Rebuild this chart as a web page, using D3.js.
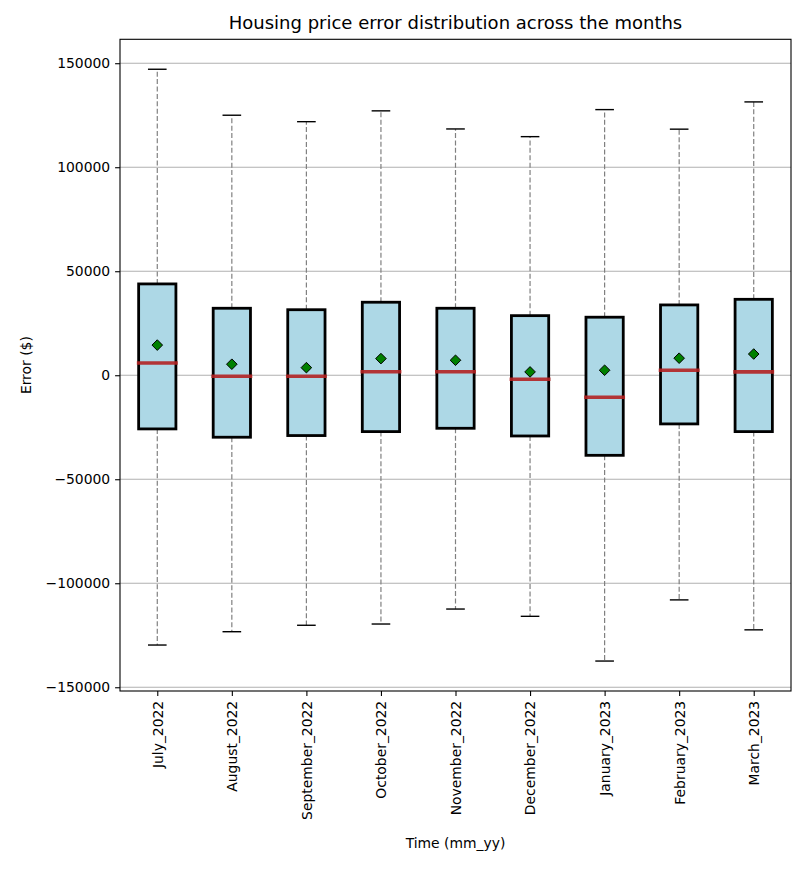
<!DOCTYPE html>
<html>
<head>
<meta charset="utf-8">
<script src="https://cdn.jsdelivr.net/npm/d3@7"></script>
<style>
  body { margin: 0; background: #fff; }
  svg { font-family: "DejaVu Sans", sans-serif; }
</style>
</head>
<body>
<svg></svg>
<script>
const months = ["July_2022", "August_2022", "September_2022", "October_2022", "November_2022",
  "December_2022", "January_2023", "February_2023", "March_2023"];

// five number summary + mean
const whiskerHigh = [147100, 125000, 121900, 127100, 118400, 114700, 127700, 118300, 131400];
const q3 = [43900, 32200, 31500, 35100, 32200, 28650, 27900, 33800, 36500];
const medians = [5900, -500, -500, 1700, 1700, -1900, -10600, 2400, 1600];
const means = [14500, 5300, 3650, 8000, 7200, 1600, 2400, 8200, 10200];
const q1 = [-25800, -29800, -29000, -27100, -25500, -29200, -38500, -23400, -27100];
const whiskerLow = [-129700, -123300, -120200, -119600, -112400, -115900, -137400, -108000, -122400];

const yTicks = [-150000, -100000, -50000, 0, 50000, 100000, 150000];
const yDomain = [-151800, 161500];

const width = 799;
const height = 870;
const plotLeft = 120;
const plotRight = 791;
const plotTop = 39.3;
const plotBottom = 691;
const font = "'DejaVu Sans', sans-serif";

let xScale;
let yScale;
let data;

const svg = d3.select("svg").attr("width", width).attr("height", height);

const buildData = () => {
  data = months.map((m, i) => ({
    month: m,
    lo: whiskerLow[i],
    q1: q1[i],
    med: medians[i],
    q3: q3[i],
    hi: whiskerHigh[i],
    mean: means[i]
  }));
}

const generateScales = () => {
  xScale = d3.scalePoint().domain(months).range([plotLeft, plotRight]).padding(0.5);
  yScale = d3.scaleLinear().domain(yDomain).range([plotBottom, plotTop]);
}

const generateGrid = () => {
  svg.append("g")
    .selectAll("line")
    .data(yTicks)
    .enter()
    .append("line")
    .attr("x1", plotLeft)
    .attr("x2", plotRight)
    .attr("y1", (d) => yScale(d))
    .attr("y2", (d) => yScale(d))
    .attr("stroke", "#b0b0b0")
    .attr("stroke-width", 1.1);
}

const generateBoxes = () => {
  const step = xScale.step();
  const boxW = step * 0.5;
  const capW = step * 0.25;

  const g = svg.append("g")
    .selectAll("g")
    .data(data)
    .enter()
    .append("g")
    .attr("transform", (d) => "translate(" + xScale(d.month) + ",0)");

  // whiskers
  g.append("line")
    .attr("y1", (d) => yScale(d.q3))
    .attr("y2", (d) => yScale(d.hi))
    .attr("stroke", "#808080")
    .attr("stroke-width", 1.2)
    .attr("stroke-dasharray", "5,2.4");
  g.append("line")
    .attr("y1", (d) => yScale(d.q1))
    .attr("y2", (d) => yScale(d.lo))
    .attr("stroke", "#808080")
    .attr("stroke-width", 1.2)
    .attr("stroke-dasharray", "5,2.4");

  // caps
  g.append("line")
    .attr("x1", -capW / 2).attr("x2", capW / 2)
    .attr("y1", (d) => yScale(d.hi)).attr("y2", (d) => yScale(d.hi))
    .attr("stroke", "#000").attr("stroke-width", 1.4);
  g.append("line")
    .attr("x1", -capW / 2).attr("x2", capW / 2)
    .attr("y1", (d) => yScale(d.lo)).attr("y2", (d) => yScale(d.lo))
    .attr("stroke", "#000").attr("stroke-width", 1.4);

  // box
  g.append("rect")
    .attr("x", -boxW / 2)
    .attr("width", boxW)
    .attr("y", (d) => yScale(d.q3))
    .attr("height", (d) => yScale(d.q1) - yScale(d.q3))
    .attr("fill", "#add8e6")
    .attr("stroke", "#000")
    .attr("stroke-width", 2.8);

  // median
  g.append("line")
    .attr("x1", -boxW / 2).attr("x2", boxW / 2)
    .attr("y1", (d) => yScale(d.med)).attr("y2", (d) => yScale(d.med))
    .attr("stroke", "#b22222")
    .attr("stroke-width", 3.6)
    .attr("stroke-linecap", "square")
    .attr("stroke-opacity", 0.9);

  // mean diamond
  const r = 5.3;
  g.append("path")
    .attr("d", (d) => {
      const y = yScale(d.mean);
      return "M0," + (y - r) + "L" + r + "," + y + "L0," + (y + r) + "L" + (-r) + "," + y + "Z";
    })
    .attr("fill", "#008000")
    .attr("stroke", "#000")
    .attr("stroke-width", 1);
}

const generateAxes = () => {
  const yAxis = d3.axisLeft(yScale)
    .tickValues(yTicks)
    .tickSize(4.9)
    .tickPadding(4.9)
    .tickFormat(d3.format("d"));
  const ya = svg.append("g")
    .attr("transform", "translate(" + plotLeft + ",0)")
    .call(yAxis)
    .attr("font-family", font);
  ya.select(".domain").remove();
  ya.selectAll("text").style("font-size", "13.9px").attr("fill", "#000");
  ya.selectAll("line").attr("stroke", "#000").attr("stroke-width", 1.1);

  const xAxis = d3.axisBottom(xScale).tickSize(4.9).tickPadding(4.9);
  const xa = svg.append("g")
    .attr("transform", "translate(0," + plotBottom + ")")
    .call(xAxis)
    .attr("font-family", font);
  xa.select(".domain").remove();
  xa.selectAll("line").attr("stroke", "#000").attr("stroke-width", 1.1);
  xa.selectAll("text")
    .style("font-size", "13.9px")
    .attr("fill", "#000")
    .attr("text-anchor", "end")
    .attr("transform", "translate(0,9.8) rotate(-90)")
    .attr("x", 0)
    .attr("y", 0)
    .attr("dy", "0.35em");

  // spines
  svg.append("rect")
    .attr("x", plotLeft)
    .attr("y", plotTop)
    .attr("width", plotRight - plotLeft)
    .attr("height", plotBottom - plotTop)
    .attr("fill", "none")
    .attr("stroke", "#000")
    .attr("stroke-width", 1.1);
}

const generateTexts = () => {
  svg.append("text")
    .text("Housing price error distribution across the months")
    .attr("x", (plotLeft + plotRight) / 2)
    .attr("y", 29)
    .attr("text-anchor", "middle")
    .style("font-size", "18px");

  svg.append("text")
    .text("Time (mm_yy)")
    .attr("x", (plotLeft + plotRight) / 2)
    .attr("y", 848)
    .attr("text-anchor", "middle")
    .style("font-size", "13.9px");

  svg.append("text")
    .text("Error ($)")
    .attr("transform", "translate(31," + (plotTop + plotBottom) / 2 + ") rotate(-90)")
    .attr("text-anchor", "middle")
    .style("font-size", "13.9px");
}

buildData();
generateScales();
generateGrid();
generateBoxes();
generateAxes();
generateTexts();
</script>
</body>
</html>
